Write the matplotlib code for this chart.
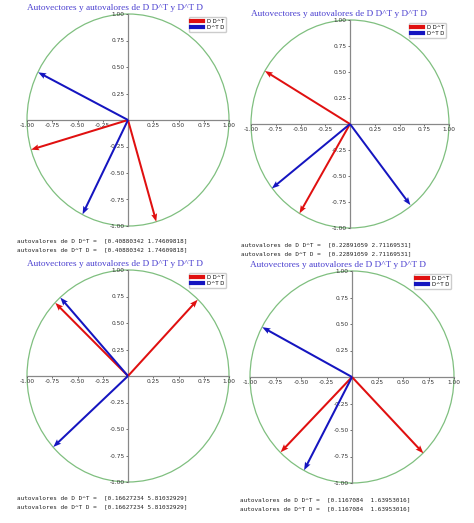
import numpy as np
import matplotlib
matplotlib.use("Agg")
import matplotlib.pyplot as plt
from matplotlib.lines import Line2D

# autovectores (columnas), uno por panel
u_1 = np.array([[-0.96, 0.28], [-0.28, -0.96]])   # D D^T
v_1 = np.array([[-0.89, -0.45], [0.45, -0.89]])   # D^T D
u_2 = np.array([[-0.86, -0.51], [0.51, -0.86]])
v_2 = np.array([[-0.79, 0.61], [-0.62, -0.78]])
u_3 = np.array([[0.69, -0.72], [0.72, 0.69]])
v_3 = np.array([[-0.67, -0.74], [0.74, -0.67]])
u_4 = np.array([[-0.70, 0.70], [-0.71, -0.72]])
v_4 = np.array([[-0.88, -0.47], [0.47, -0.88]])

eig_1 = ["0.40880342", "1.74609818"]
eig_2 = ["0.22891059", "2.71169531"]
eig_3 = ["0.16627234", "5.81032929"]
eig_4 = ["0.1167084 ", "1.63953016"]

ticks = [-1.0, -0.75, -0.5, -0.25, 0.25, 0.5, 0.75, 1.0]
titulo = "Autovectores y autovalores de D D^T y D^T D"

W, H = 474, 523
fig = plt.figure(figsize=(W / 100, H / 100), dpi=100)

# cajas en pixeles: (izq, der, arriba, abajo), titulo y, texto y
paneles = [
    (u_1, v_1, eig_1, (27, 229, 14, 226), 8, 241),
    (u_2, v_2, eig_2, (251, 449, 20, 228), 14, 245),
    (u_3, v_3, eig_3, (27, 229, 270, 482), 264, 498),
    (u_4, v_4, eig_4, (250, 454, 271, 483), 265, 500),
]

for U, V, eig, (x0, x1, y0, y1), ty, ey in paneles:
    ax = fig.add_axes([x0 / W, 1 - y1 / H, (x1 - x0) / W, (y1 - y0) / H])
    ax.set_xlim(-1, 1)
    ax.set_ylim(-1, 1)
    ax.add_patch(plt.Circle((0, 0), 1, fill=False, color="green", alpha=0.5,
                            lw=0.9, clip_on=False))
    for s in ["left", "bottom"]:
        ax.spines[s].set_position("zero")
        ax.spines[s].set_color("#888888")
        ax.spines[s].set_linewidth(0.9)
    ax.spines["top"].set_visible(False)
    ax.spines["right"].set_visible(False)
    ax.set_xticks(ticks)
    ax.set_yticks(ticks)
    ax.set_xticklabels([f"{t:.2f}" for t in ticks])
    ax.set_yticklabels([f"{t:.2f}" for t in ticks])
    ax.tick_params(labelsize=4.2, length=1.5, width=0.5, pad=1, colors="#333333")
    ax.patch.set_alpha(0)

    for M, col in [(U, "#e01010"), (V, "#1515c0")]:
        ax.quiver([0, 0], [0, 0], M[0], M[1], color=col, angles="xy",
                  scale_units="xy", scale=1, width=0.010, headwidth=3,
                  headlength=4, headaxislength=3.5, zorder=3)

    handles = [Line2D([], [], color="#e01010", lw=3),
               Line2D([], [], color="#1515c0", lw=3)]
    ax.legend(handles, ["D D^T", "D^T D"], loc="upper right",
              bbox_to_anchor=(1.0, 1.0), fontsize=3.8, handlelength=2.2,
              borderpad=0.4, labelspacing=0.3, framealpha=1)

    fig.text(x0 / W, 1 - ty / H, titulo, ha="left", va="center",
             fontsize=6.7, family="Liberation Serif", color="#4a3fd0")
    tx = 17 / W if x0 < 200 else (x0 - 10) / W
    fig.text(tx, 1 - ey / H,
             f"autovalores de D D^T =  [{eig[0]} {eig[1]}]",
             ha="left", va="center", fontsize=4.3, family="DejaVu Sans Mono",
             color="#222222")
    fig.text(tx, 1 - (ey + 9) / H,
             f"autovalores de D^T D =  [{eig[0]} {eig[1]}]",
             ha="left", va="center", fontsize=4.3, family="DejaVu Sans Mono",
             color="#222222")

fig.savefig("out.png", dpi=100)
